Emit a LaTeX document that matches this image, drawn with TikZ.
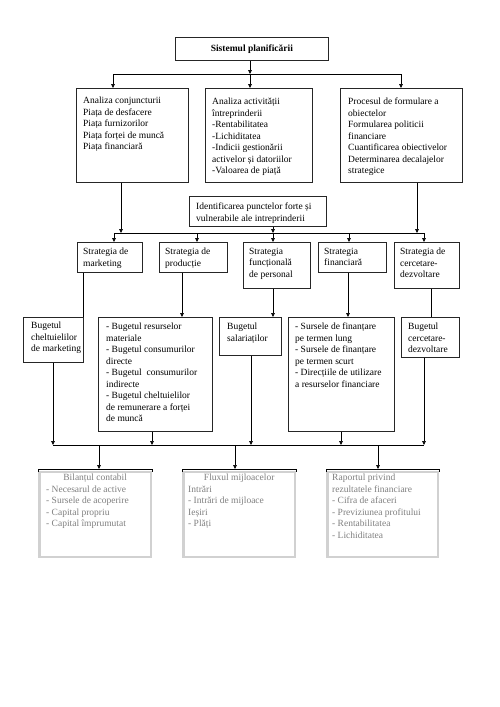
\documentclass[tikz,border=0pt]{standalone}
\usepackage{fontspec}
\setmainfont{Liberation Serif}
\usetikzlibrary{arrows.meta,calc}
\begin{document}
\begin{tikzpicture}[x=1pt,y=-1pt,
  box/.style={draw=black!85,line width=0.7pt,inner sep=0pt,anchor=north west,fill=white},
  txt/.style={inner sep=0pt,anchor=north west,align=left,font=\fontsize{9.5}{11.5}\selectfont},
  arr/.style={-{Triangle[length=4pt,width=3.6pt]},line width=0.6pt},
  ln/.style={line width=0.6pt},
  ghost/.style={inner sep=0pt,anchor=north west},
  fuzzy/.style={draw=black!18,line width=2.6pt},
  ftxt/.style={txt,text=black!50}
]
\useasboundingbox[fill=white] (0,0) rectangle (500,707);

% ---------- title ----------
\node[box,minimum width=153pt,minimum height=23pt] (t) at (175,37) {};
\node[inner sep=0pt,font=\bfseries\fontsize{9.5}{11.5}\selectfont] (tt) at (t.center) {Sistemul planificării};

% ---------- analysis row ----------
\node[box,minimum width=112pt,minimum height=94pt] (a1) at (76,88) {};
\node[txt] (a1t) at ($(a1.north west)+(7,9)$) {Analiza conjuncturii\\Piața de desfacere\\Piața furnizorilor\\Piața forței de muncă\\Piața financiară};
\node[box,minimum width=107pt,minimum height=94pt] (a2) at (205,88) {};
\node[txt] (a2t) at ($(a2.north west)+(7,10)$) {Analiza activității\\întreprinderii\\-Rentabilitatea\\-Lichiditatea\\-Indicii gestionării\\activelor și datoriilor\\-Valoarea de piață};
\node[box,minimum width=122pt,minimum height=94pt] (a3) at (340,88) {};
\node[txt] (a3t) at ($(a3.north west)+(8,10)$) {Procesul de formulare a\\obiectelor\\Formularea politicii\\financiare\\Cuantificarea obiectivelor\\Determinarea decalajelor\\strategice};

% ---------- identification ----------
\node[box,minimum width=137pt,minimum height=30pt] (id) at (189,196) {};
\node[txt] (idt) at ($(id.north west)+(7,7)$) {Identificarea punctelor forte și\\vulnerabile ale intreprinderii};

% ---------- strategies ----------
\node[box,minimum width=65pt,minimum height=30pt] (s1) at (77,242) {};
\node[txt] (s1t) at ($(s1.north west)+(6,6)$) {Strategia de\\marketing};
\node[box,minimum width=68pt,minimum height=30pt] (s2) at (159,242) {};
\node[txt] (s2t) at ($(s2.north west)+(6,6)$) {Strategia de\\producție};
\node[box,minimum width=67pt,minimum height=46pt] (s3) at (243,242) {};
\node[txt] (s3t) at ($(s3.north west)+(6,6)$) {Strategia\\funcțională\\de personal};
\node[box,minimum width=68pt,minimum height=30pt] (s4) at (318,242) {};
\node[txt] (s4t) at ($(s4.north west)+(6,6)$) {Strategia\\financiară};
\node[box,minimum width=65pt,minimum height=46pt] (s5) at (394,242) {};
\node[txt] (s5t) at ($(s5.north west)+(6,6)$) {Strategia de\\cercetare-\\dezvoltare};

% ---------- budgets ----------
\node[box,minimum width=60pt,minimum height=45pt] (b1) at (23,317) {};
\node[txt] (b1t) at ($(b1.north west)+(8,5)$) {Bugetul\\cheltuielilor\\de marketing};
\node[box,minimum width=114pt,minimum height=114pt] (b2) at (98,317) {};
\node[txt] (b2t) at ($(b2.north west)+(8,6)$) {- Bugetul resurselor\\materiale\\- Bugetul consumurilor\\directe\\- Bugetul\ \ consumurilor\\indirecte\\- Bugetul cheltuielilor\\de remunerare a forței\\de muncă};
\node[box,minimum width=62pt,minimum height=38pt] (b3) at (219,317) {};
\node[txt] (b3t) at ($(b3.north west)+(8,6)$) {Bugetul\\salariaților};
\node[box,minimum width=106pt,minimum height=114pt] (b4) at (288,317) {};
\node[txt] (b4t) at ($(b4.north west)+(7,6)$) {- Sursele de finanțare\\pe termen lung\\- Sursele de finanțare\\pe termen scurt\\- Direcțiile de utilizare\\a resurselor financiare};
\node[box,minimum width=58pt,minimum height=40pt] (b5) at (401,317) {};
\node[txt] (b5t) at ($(b5.north west)+(7,6)$) {Bugetul\\cercetare-\\dezvoltare};

% ---------- blurred bottom boxes ----------
\node[ghost,minimum width=114pt,minimum height=89pt] (c1) at (38,469) {};
\node[ghost,minimum width=114pt,minimum height=89pt] (c2) at (182,469) {};
\node[ghost,minimum width=113pt,minimum height=89pt] (c3) at (326,469) {};
\foreach \c in {c1,c2,c3}{
  \draw[fuzzy] ($(\c.north west)+(1.5,3)$) rectangle ($(\c.south east)+(-1.5,-1.5)$);
  \draw[ln] ($(\c.north west)+(0,3)$) -- (\c.north west) -- (\c.north east) -- ++(0,3);
}
\node[ftxt,anchor=north] (c1h) at ($(c1.north)+(0,5)$) {Bilanțul contabil};
\node[ftxt] (c1t) at ($(c1.north west)+(8,16.5)$) {- Necesarul de active\\- Sursele de acoperire\\- Capital propriu\\- Capital împrumutat};
\node[ftxt,anchor=north] (c2h) at ($(c2.north)+(0,5)$) {Fluxul mijloacelor};
\node[ftxt] (c2t) at ($(c2.north west)+(6,16.5)$) {Intrări\\- Intrări de mijloace\\Ieșiri\\- Plăți};
\node[ftxt] (c3t) at ($(c3.north west)+(6,5)$) {Raportul privind\\rezultatele financiare\\- Cifra de afaceri\\- Previziunea profitului\\- Rentabilitatea\\- Lichiditatea};

% ---------- connectors: top ----------
\coordinate (j0) at (250,74);
\coordinate (j0l) at (113,74);
\coordinate (j0r) at (401,74);
\draw[arr] (j0 |- t.south) -- (j0);
\draw[ln] (j0l) -- (j0r);
\draw[arr] (j0l) -- (j0l |- a1.north);
\draw[arr] (j0) -- (j0 |- a2.north);
\draw[arr] (j0r) -- (j0r |- a3.north);

% ---------- connectors: middle ----------
\coordinate (m1) at (121,233);
\coordinate (mid) at (273,233);
\coordinate (m3) at (417,233);
\draw[arr] (m1 |- a1.south) -- (m1);
\draw[arr] (mid |- id.south) -- (mid);
\draw[arr] (m3 |- a3.south) -- (m3);
\coordinate (q1) at (114,233);
\coordinate (q2) at (197,233);
\coordinate (q3) at (273,233);
\coordinate (q4) at (349,233);
\coordinate (q5) at (424,233);
\draw[ln] (q1) -- (q5);
\draw[arr] (q1) -- (q1 |- s1.north);
\draw[arr] (q2) -- (q2 |- s2.north);
\draw[arr] (q3) -- (q3 |- s3.north);
\draw[arr] (q4) -- (q4 |- s4.north);
\draw[arr] (q5) -- (q5 |- s5.north);

% ---------- connectors: strategies to budgets ----------
\coordinate (r1) at (83,300);
\coordinate (r2) at (182,300);
\coordinate (r3) at (273,300);
\coordinate (r4) at (348,300);
\coordinate (r5) at (431,300);
\draw[ln] (r1 |- s1.south) -- (r1 |- b1.north);
\draw[arr] (r2 |- s2.south) -- (r2 |- b2.north);
\draw[arr] (r3 |- s3.south) -- (r3 |- b3.north);
\draw[arr] (r4 |- s4.south) -- (r4 |- b4.north);
\draw[ln] (r5 |- s5.south) -- (r5 |- b5.north);

% ---------- connectors: bottom ----------
\coordinate (u1) at (53,445);
\coordinate (u2) at (152,445);
\coordinate (u3) at (251,445);
\coordinate (u4) at (341,445);
\coordinate (u5) at (424,445);
\draw[arr] (u1 |- b1.south) -- (u1);
\draw[arr] (u2 |- b2.south) -- (u2);
\draw[arr] (u3 |- b3.south) -- (u3);
\draw[arr] (u4 |- b4.south) -- (u4);
\draw[arr] (u5 |- b5.south) -- (u5);
\draw[ln] (u1) -- (u5);
\coordinate (v1) at (99,445);
\coordinate (v2) at (235,445);
\coordinate (v3) at (378,445);
\draw[arr] (v1) -- (v1 |- c1.north);
\draw[arr] (v2) -- (v2 |- c2.north);
\draw[arr] (v3) -- (v3 |- c3.north);
\end{tikzpicture}
\end{document}
